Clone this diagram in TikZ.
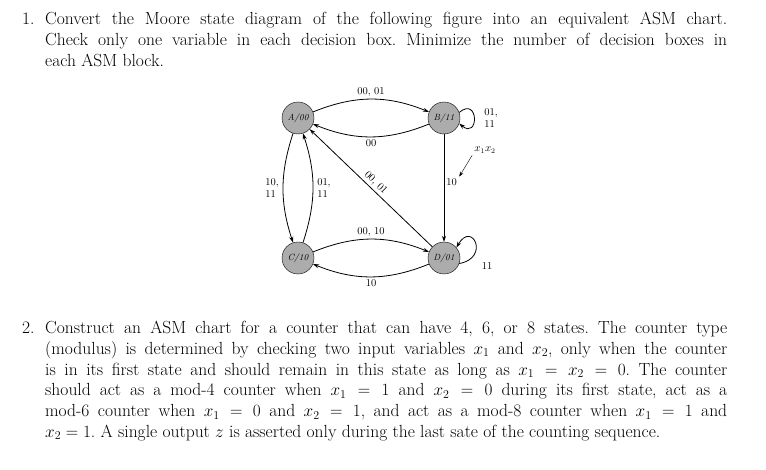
\documentclass[tikz,border=0pt]{standalone}
\usetikzlibrary{arrows.meta}
\begin{document}
\frenchspacing
\begin{tikzpicture}[x=1bp,y=-1bp,
  st/.style={circle,draw=black,fill=gray!65,minimum size=32bp,inner sep=0pt,font=\fontsize{9}{9}\selectfont\itshape},
  tr/.style={-{Stealth[length=6bp,width=4bp]},thick},
  lb/.style={font=\fontsize{10.5}{12}\selectfont,inner sep=2pt,align=left},
  para/.style={anchor=north west,inner sep=0pt,text width=705bp,align=justify,font=\fontsize{17.6}{20.8}\selectfont}]
\useasboundingbox[fill=white] (0,0) rectangle (766,470);
\node[para] (n1) at (22,12) {\makebox[23bp][l]{1.}Convert the Moore state diagram of the following figure into an equivalent ASM chart.\linebreak
\hspace*{23bp}Check only one variable in each decision box. Minimize the number of decision boxes in\linebreak
\hspace*{23bp}each ASM block.};
\node[st] (A) at (298,118) {A/00};
\node[st] (B) at (444,118) {B/11};
\node[st] (C) at (298,258) {C/10};
\node[st] (D) at (444,258) {D/01};
\draw[tr] (A) to[bend left=22] node[lb,above] {00, 01} (B);
\draw[tr] (B) to[bend left=22] node[lb,below] {00} (A);
\draw[tr] (B.20) to[out=40,in=-40,looseness=6] (B.-20);
\node[lb] (bl) at (491,118) {01,\\11};
\draw[tr] (B) -- node[lb,right,pos=0.45] (l10) {10} (D);
\node[lb] (x12) at (485,150) {$x_1x_2$};
\draw[-{Stealth[length=5bp,width=3.5bp]}] (x12.south west) -- (l10.north east);
\draw[tr] (D) -- node[lb,sloped,above,pos=0.5] {00, 01} (A);
\draw[tr] (A) to[bend right=18] node[lb,left,xshift=-2bp] {10,\\11} (C);
\draw[tr] (C) to[bend right=18] node[lb,right,xshift=2bp] {01,\\11} (A);
\draw[tr] (C) to[bend left=22] node[lb,above] {00, 10} (D);
\draw[tr] (D) to[bend left=22] node[lb,below] {10} (C);
\draw[tr] (D.-20) to[out=10,in=60,looseness=5] (D.40);
\node[lb] (dl) at (487,266) {11};
\node[para] (n2) at (22,321) {\makebox[23bp][l]{2.}Construct an ASM chart for a counter that can have 4, 6, or 8 states. The counter type\linebreak
\hspace*{23bp}(modulus) is determined by checking two input variables $x_1$ and $x_2$, only when the counter\linebreak
\hspace*{23bp}is in its first state and should remain in this state as long as $x_1=x_2=0$. The counter\linebreak
\hspace*{23bp}should act as a mod-4 counter when $x_1=1$ and $x_2=0$ during its first state, act as a\linebreak
\hspace*{23bp}mod-6 counter when $x_1=0$ and $x_2=1$, and act as a mod-8 counter when $x_1=1$ and\linebreak
\hspace*{23bp}$x_2=1$. A single output $z$ is asserted only during the last sate of the counting sequence.};
\end{tikzpicture}
\end{document}
